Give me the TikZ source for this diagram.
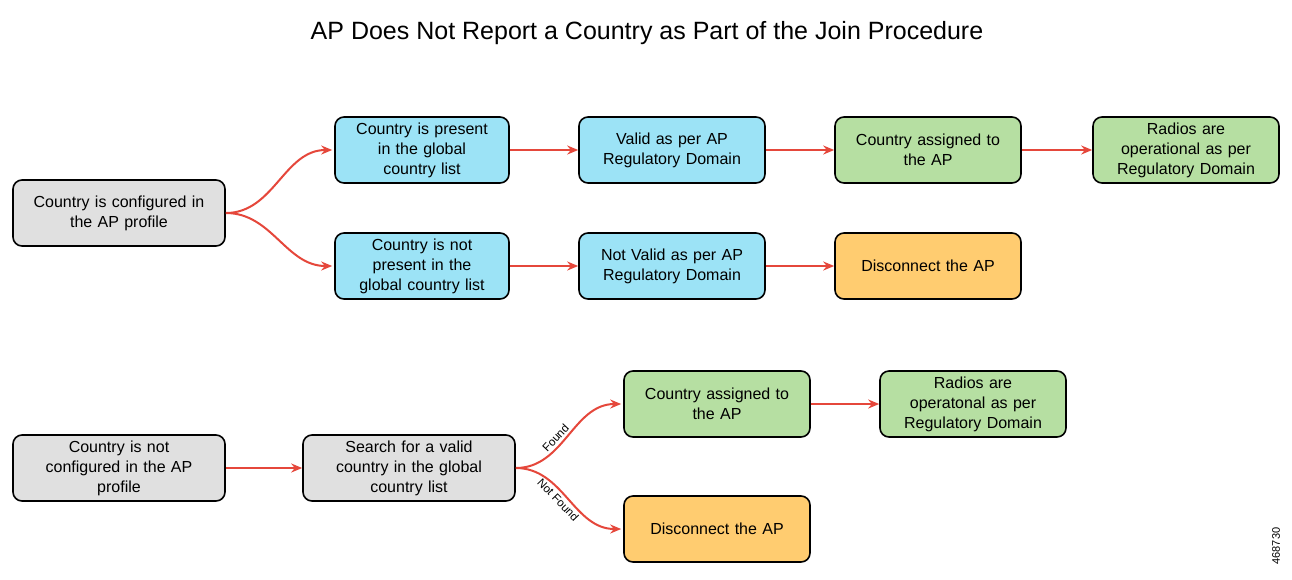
\documentclass[tikz,border=0pt]{standalone}
\usepackage{fontspec}
\setmainfont{Liberation Sans}
\usetikzlibrary{arrows.meta}
\definecolor{gr}{HTML}{E0E0E0}
\definecolor{bl}{HTML}{9CE3F6}
\definecolor{gn}{HTML}{B6DFA2}
\definecolor{or}{HTML}{FFCC70}
\definecolor{ar}{HTML}{E5473B}
\begin{document}
\begin{tikzpicture}[x=1pt,y=-1pt,
 box/.style={draw=black,line width=1.6pt,rounded corners=9pt,minimum height=66pt,align=center,font=\fontsize{16}{20}\selectfont,inner sep=2pt},
 w1/.style={minimum width=174pt,text width=170pt},
 w2/.style={minimum width=186pt,text width=180pt},
 w3/.style={minimum width=212pt,text width=205pt},
 arr/.style={draw=ar,line width=2pt,-{Stealth[length=11pt,width=9pt]}},
 lab/.style={font=\fontsize{11.5}{13}\selectfont,inner sep=3pt}]
\useasboundingbox (0,0) rectangle (1292,579);
\node[font=\fontsize{25}{30}\selectfont] (t) at (647,33) {AP Does Not Report a Country as Part of the Join Procedure};
\node[box,w3,fill=gr] (a) at (119,213) {Country is configured in\\the AP profile};
\node[box,w1,fill=bl] (b1) at (422,150) {Country is present\\in the global\\country list};
\node[box,w2,fill=bl] (b2) at (672,150) {Valid as per AP\\Regulatory Domain};
\node[box,w2,fill=gn] (b3) at (928,150) {Country assigned to\\the AP};
\node[box,w2,fill=gn] (b4) at (1186,150) {Radios are\\operational as per\\Regulatory Domain};
\node[box,w1,fill=bl] (c1) at (422,266) {Country is not\\present in the\\global country list};
\node[box,w2,fill=bl] (c2) at (672,266) {Not Valid as per AP\\Regulatory Domain};
\node[box,w2,fill=or] (c3) at (928,266) {Disconnect the AP};
\node[box,w3,fill=gr] (d) at (119,468) {Country is not\\configured in the AP\\profile};
\node[box,w3,fill=gr] (e) at (409,468) {Search for a valid\\country in the global\\country list};
\node[box,w2,fill=gn] (f1) at (717,404) {Country assigned to\\the AP};
\node[box,w2,fill=gn] (f2) at (973,404) {Radios are\\operatonal as per\\Regulatory Domain};
\node[box,w2,fill=or] (f3) at (717,529) {Disconnect the AP};
\node[font=\fontsize{11}{12}\selectfont,rotate=90] (n) at (1276,546) {468730};
\draw[arr] (a.east) to[out=0,in=180] ([xshift=-2pt]b1.west);
\draw[arr] (a.east) to[out=0,in=180] ([xshift=-2pt]c1.west);
\draw[arr] (b1) -- (b2);
\draw[arr] (b2) -- (b3);
\draw[arr] (b3) -- (b4);
\draw[arr] (c1) -- (c2);
\draw[arr] (c2) -- (c3);
\draw[arr] (d) -- (e);
\draw[arr] (f1) -- (f2);
\draw[arr] (e.east) to[out=0,in=180] node[lab,above,sloped,pos=0.42] {Found} ([xshift=-2pt]f1.west);
\draw[arr] (e.east) to[out=0,in=180] node[lab,below,sloped,pos=0.45] {Not Found} ([xshift=-2pt]f3.west);
\end{tikzpicture}
\end{document}
